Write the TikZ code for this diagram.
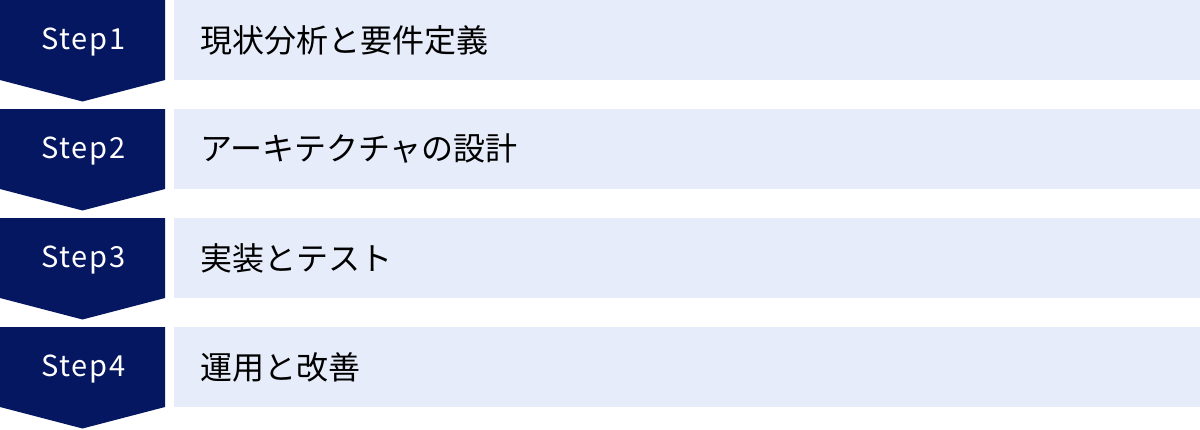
\documentclass[tikz,border=0pt]{standalone}
\usepackage{fontspec}
\setmainfont{Noto Sans CJK JP}
\newfontfamily\jpfont{Noto Sans CJK JP}
\definecolor{navy}{HTML}{061761}
\definecolor{pale}{HTML}{E6ECF9}
\begin{document}
\begin{tikzpicture}[x=1pt,y=-1pt,
  stepshape/.style={fill=navy,draw=none},
  barshape/.style={fill=pale,draw=none},
  steplabel/.style={text=white,font=\fontsize{29}{32}\selectfont\addfontfeatures{LetterSpace=6},anchor=center,inner sep=0pt},
  barlabel/.style={text=black,font=\jpfont\fontsize{32}{36}\selectfont,anchor=west,inner sep=0pt}]
\useasboundingbox (0,0) rectangle (1200,429);
\foreach \i/\t in {0/現状分析と要件定義,1/アーキテクチャの設計,2/実装とテスト,3/運用と改善}{
  \pgfmathsetmacro{\yy}{\i*109}
  \fill[stepshape] (0,\yy) -- (165,\yy) -- (165,\yy+80) -- (82.5,\yy+101.5) -- (0,\yy+80) -- cycle;
  \fill[barshape] (174,\yy) rectangle (1200,\yy+80);
  \pgfmathtruncatemacro{\n}{\i+1}
  \node[steplabel] (s\n) at (83.5,\yy+42) {Step\n};
  \node[barlabel] (b\n) at (200,\yy+40) {\t};
}
\end{tikzpicture}
\end{document}
